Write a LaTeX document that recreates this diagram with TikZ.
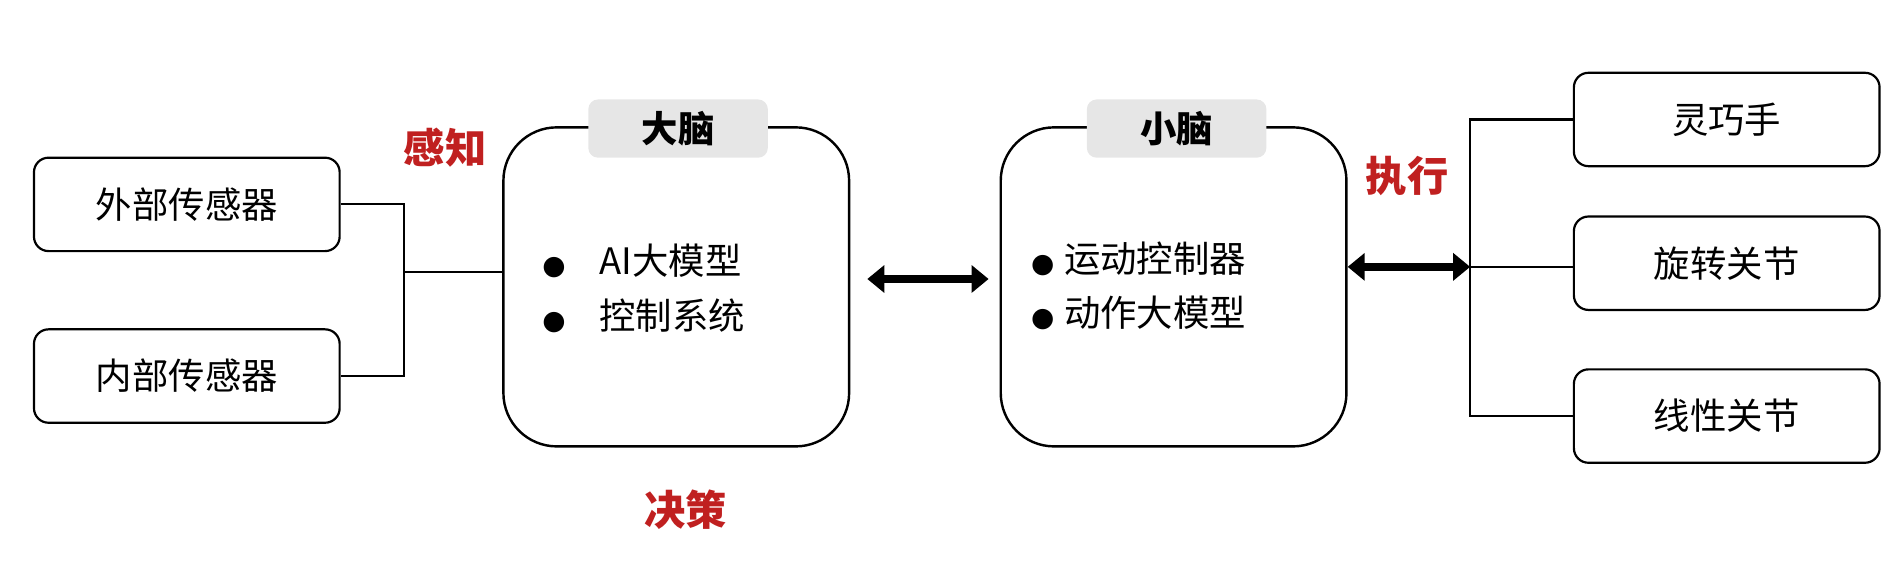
\documentclass[tikz,border=0pt]{standalone}
\usepackage{fontspec}
\setmainfont{Noto Sans CJK SC}
\newfontfamily\sym{DejaVu Sans}
\usetikzlibrary{arrows.meta}
\definecolor{myred}{RGB}{192,32,32}
\definecolor{tabgray}{RGB}{230,230,230}
\begin{document}
\begin{tikzpicture}[x=0.5pt,y=-0.5pt,
  sbox/.style={draw,line width=0.9pt,rounded corners=6pt,minimum width=126pt,minimum height=38.5pt,font=\fontsize{15}{18}\selectfont},
  bigbox/.style={draw,line width=1pt,rounded corners=22pt,minimum width=142.5pt,minimum height=131.5pt},
  tab/.style={fill=tabgray,rounded corners=4pt,minimum width=74pt,minimum height=24pt,font=\fontsize{15}{18}\selectfont\bfseries},
  redl/.style={text=myred,font=\fontsize{17}{20}\selectfont\bfseries},
  item/.style={font=\fontsize{15}{18}\selectfont,anchor=west},
  conn/.style={line width=0.9pt},
  dbl/.style={line width=3pt,{Triangle[length=7pt,width=11pt]}-{Triangle[length=7pt,width=11pt]}}]
\useasboundingbox (0,0) rectangle (1568,476.5);
\node[sbox] (ext) at (154,168.5) {外部传感器};
\node[sbox] (int) at (154,310) {内部传感器};
\node[bigbox] (brain) at (557.5,236.5) {};
\node[tab] (btab) at (559,106) {大脑};
\node[bigbox] (cereb) at (967.5,236.5) {};
\node[tab] (ctab) at (970,106) {小脑};
\node[sbox] (hand) at (1423.5,98.5) {灵巧手};
\node[sbox] (rot) at (1423.5,217) {旋转关节};
\node[sbox] (lin) at (1423.5,343) {线性关节};
\node[redl] (perc) at (367,122) {感知};
\node[redl] (dec) at (565,420) {决策};
\node[redl] (exe) at (1160,145) {执行};
\node[item] (b1) at (440,215) {{\sym\fontsize{11}{12}\selectfont ●}\hspace{14pt}AI大模型};
\node[item] (b2) at (440,260) {{\sym\fontsize{11}{12}\selectfont ●}\hspace{14pt}控制系统};
\node[item] (c1) at (843,213) {{\sym\fontsize{11}{12}\selectfont ●}\hspace{4pt}运动控制器};
\node[item] (c2) at (843,258) {{\sym\fontsize{11}{12}\selectfont ●}\hspace{4pt}动作大模型};
\coordinate (j1) at (333,224);
\coordinate (j2) at (1212,220);
\draw[conn] (ext.east) -| (j1) |- (int.east);
\draw[conn] (j1) -- (brain.west|-j1);
\draw[dbl] (715,230) -- (815,230);
\draw[dbl] (cereb.east|-j2) -- (j2);
\draw[conn] (hand.west) -| (j2) |- (lin.west);
\draw[conn] (j2) -- (rot.west|-j2);
\end{tikzpicture}
\end{document}
